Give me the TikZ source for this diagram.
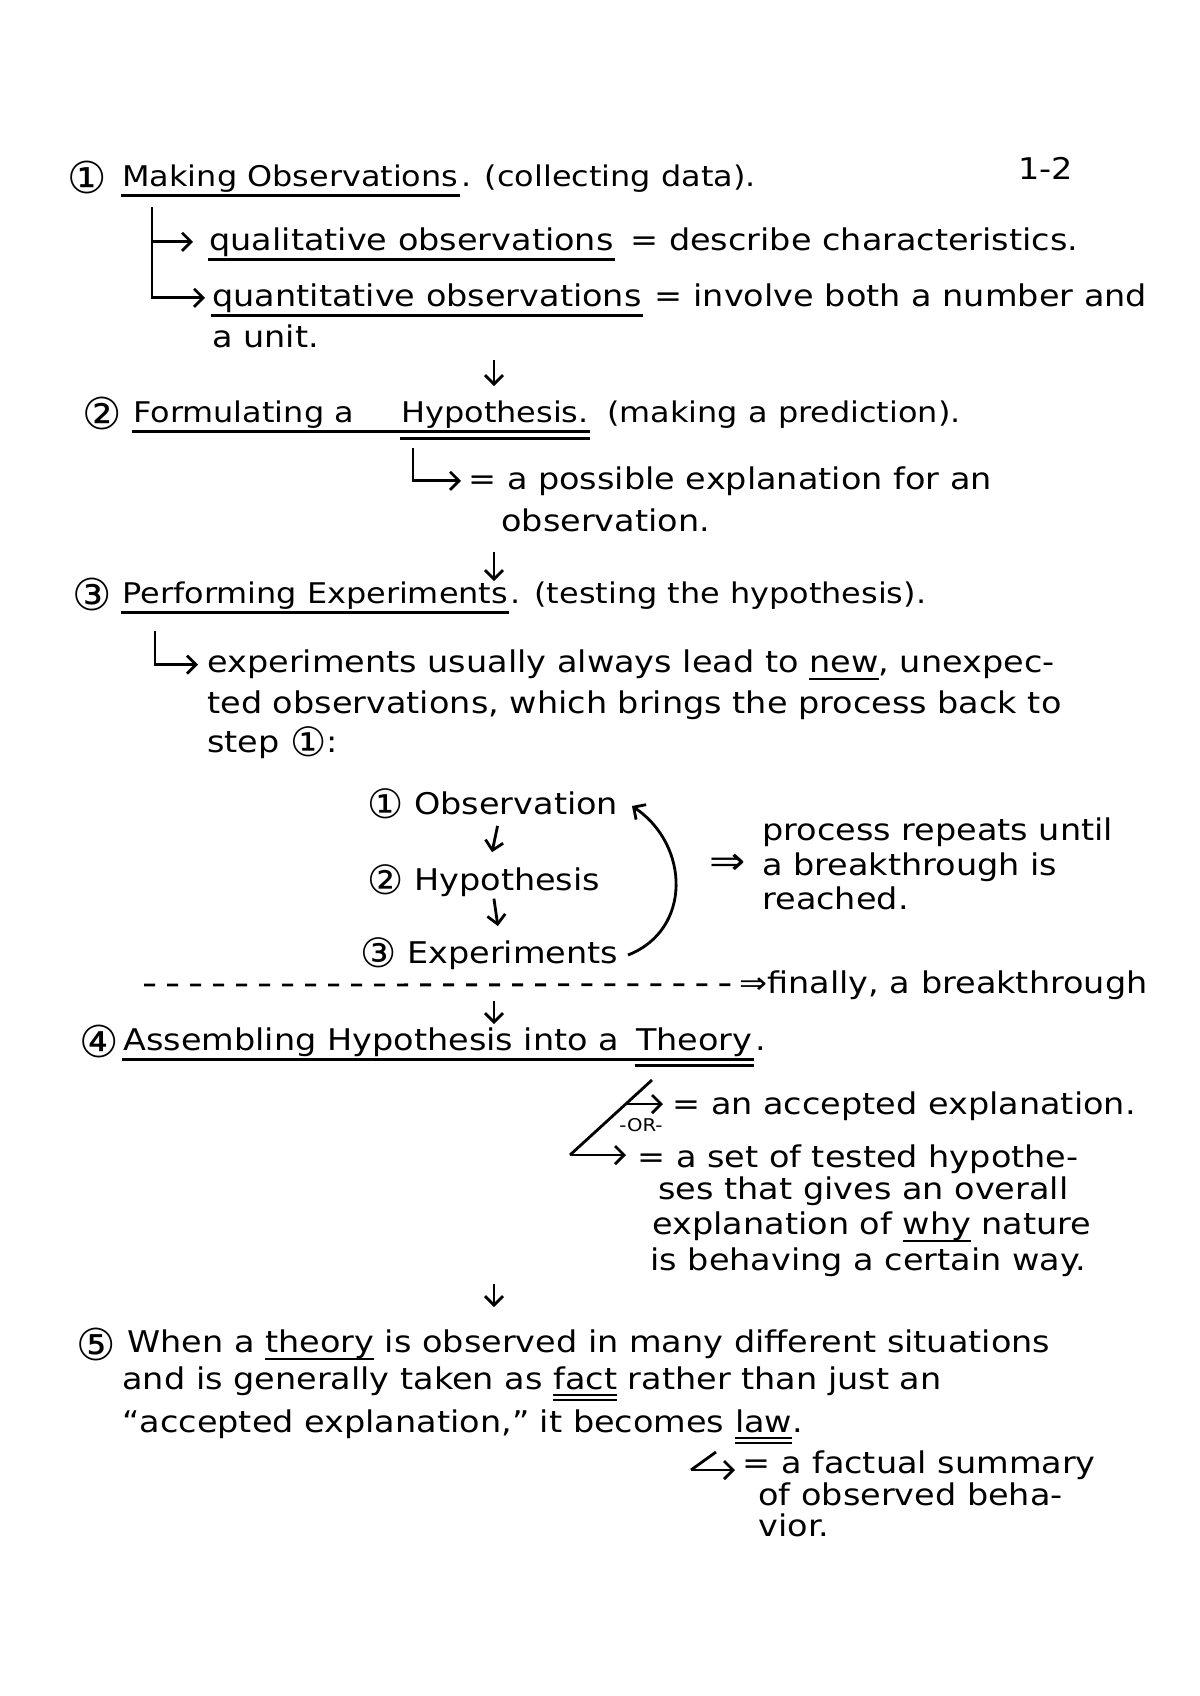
\documentclass[tikz,border=0pt]{standalone}
\usepackage{fontspec}
\setmainfont{DejaVu Sans}[FakeStretch=1.12]
\newfontfamily\circfont{DejaVu Sans}
\usetikzlibrary{arrows.meta, positioning, calc}
\newcommand{\hul}[1]{\leavevmode\vtop{\hbox{\raisebox{0pt}[\height][0pt]{#1}}\kern1.6pt\hrule height 0.7pt}}
\newcommand{\hdul}[1]{\leavevmode\vtop{\hbox{\raisebox{0pt}[\height][0pt]{#1}}\kern1.3pt\hrule height 0.7pt\kern0.8pt\hrule height 0.7pt}}
\newcommand{\cnum}[1]{\raisebox{-1.2pt}{\circfont\fontsize{11.5}{12}\selectfont #1}}
\tikzset{
  every picture/.style={line width=0.8pt},
  txt/.style={anchor=base west, inner sep=0pt, font=\fontsize{8.5}{10}\selectfont},
  hd/.style={txt, font=\fontsize{8.1}{10}\selectfont},
  num/.style={txt, font=\circfont\fontsize{12.5}{14}\selectfont},
  tinytxt/.style={txt, font=\fontsize{5}{6}\selectfont},
  arr/.style={-{Straight Barb[length=0.9mm, width=1.8mm]}},
  uline/.style={line width=0.8pt},
}

\begin{document}
\begin{tikzpicture}[x=0.01cm, y=-0.01cm,
  dashline/.style={dash pattern=on 1.1mm off 1.2mm}]
  \fill[white] (0,0) rectangle (1200,1696);
  \useasboundingbox (0,0) rectangle (1200,1696);
  % page number
  \node[txt] (pg) at (1017,179) {1-2};
  % step 1
  \node[num] (c1) at (66,193) {①};
  \node[hd] (s1a) at (121,186) {Making Observations};
  \node[hd, base right=0pt of s1a] (s1b) {. (collecting data).};
  \draw[uline] ([yshift=-2.6pt]s1a.base west) -- ([yshift=-2.6pt]s1a.base east);
  \node[txt] (q1) at (208,250) {qualitative observations};
  \node[txt, base right=0.4em of q1] (q1b) {= describe characteristics.};
  \node[txt] (q2) at (211,306) {quantitative observations};
  \node[txt, base right=0.3em of q2] (q2b) {= involve both a number and};
  \node[txt] (q3) at (211,347) {a unit.};
  \draw[uline] ([yshift=-2.6pt]q1.base west) -- ([yshift=-2.6pt]q1.base east);
  \draw[uline] ([yshift=-2.6pt]q2.base west) -- ([yshift=-2.6pt]q2.base east);
  \coordinate (b1) at (152,207);
  \draw[arr, shorten >=1.5mm] (b1) |- (q1.west);
  \draw[arr, shorten >=0.6mm] (b1) |- (q2.west);
  % step 2
  \node[num] (c2) at (81,429) {②};
  \node[hd] (s2a) at (132,422) {Formulating a};
  \node[hd] (s2b) at (400,422) {Hypothesis.};
  \node[hd, base right=0.45em of s2b] (s2c) {(making a prediction).};
  \draw[uline] ([yshift=-2.6pt]s2a.base west) -- ([yshift=-2.6pt]s2b.base east);
  \draw[uline] ([yshift=-4.6pt]s2b.base west) -- ([yshift=-4.6pt]s2b.base east);
  \node[txt] (p2) at (467,489) {= a possible explanation for an};
  \node[txt] (p2b) at (500,531) {observation.};
  \coordinate (b2) at (413,448);
  \draw[arr, shorten >=0.6mm] (b2) |- (p2.west);
  % step 3
  \node[num] (c3) at (71,610) {③};
  \node[hd] (s3a) at (121,603) {Performing Experiments};
  \node[hd, base right=0pt of s3a] (s3b) {. (testing the hypothesis).};
  \draw[uline] ([yshift=-2.6pt]s3a.base west) -- ([yshift=-2.6pt]s3a.base east);
  \node[txt] (e1) at (206,672) {experiments usually always lead to \hul{new}, unexpec-};
  \node[txt] (e2) at (206,713) {ted observations, which brings the process back to};
  \node[txt] (e3) at (206,752) {step \cnum{①}:};
  \coordinate (b3) at (155,631);
  \draw[arr, shorten >=0.8mm] (b3) |- (e1.west);
  % the loop
  \node[txt] (obs) at (366,814) {\cnum{①} Observation};
  \node[txt] (hyp) at (366,890) {\cnum{②} Hypothesis};
  \node[txt] (exp) at (359,963) {\cnum{③} Experiments};
  \draw[arr, shorten <=0.6mm, shorten >=1.1mm] ([xshift=0.6mm]obs.south) -- ([xshift=0.6mm]hyp.north);
  \draw[arr, shorten <=0.1mm, shorten >=1.0mm] ([xshift=1.0mm]hyp.south) -- ([xshift=1.0mm]exp.north);
  \coordinate (lpA) at (628,955);
  \coordinate (lpB) at (632,806);
  \draw[arr] (lpA) .. controls (692,930) and (690,845) .. (lpB);
  \node[txt, font=\fontsize{11}{12}\selectfont] (imp) at (708,874) {⇒};
  \node[txt] (r1) at (761,840) {process repeats until};
  \node[txt] (r2) at (761,875) {a breakthrough is};
  \node[txt] (r3) at (761,909) {reached.};
  % breakthrough
  \coordinate (dA) at (144,985);
  \node[txt] (fin) at (738,993) {⇒finally, a breakthrough};
  \draw[dashline] (dA) -- (fin.west);
  % step 4
  \node[num] (c4) at (78,1057) {④};
  \node[txt] (s4a) at (122,1050) {Assembling Hypothesis into a};
  \node[txt, base right=0.4em of s4a] (s4b) {Theory};
  \node[txt, base right=0pt of s4b] (s4c) {.};
  \draw[uline] ([yshift=-2.6pt]s4a.base west) -- ([yshift=-2.6pt]s4b.base east);
  \draw[uline] ([yshift=-4.4pt]s4b.base west) -- ([yshift=-4.4pt]s4b.base east);
  \node[txt] (th1) at (671,1114) {= an accepted explanation.};
  \node[tinytxt] (or) at (618,1131) {-OR-};
  \node[txt] (th2) at (636,1167) {= a set of tested hypothe-};
  \node[txt] (th3) at (657,1199) {ses that gives an overall};
  \node[txt] (th4) at (651,1234) {explanation of \hul{why} nature};
  \node[txt] (th5) at (649,1270) {is behaving a certain way.};
  \coordinate (t1) at (652,1080);
  \coordinate (t2) at (570,1155);
  \coordinate (tm) at ($(t1)!0.32!(t2)$);
  \draw (t1) -- (t2);
  \draw[arr, shorten >=0.8mm] (tm) -- (tm -| th1.west);
  \draw[arr, shorten >=1.0mm] (t2) -- (t2 -| th2.west);
  % step 5
  \node[num] (c5) at (75,1360) {⑤};
  \node[txt] (w1) at (126,1352) {When a \hul{theory} is observed in many different situations};
  \node[txt] (w2) at (121,1389) {and is generally taken as \hdul{fact} rather than just an};
  \node[txt] (w3) at (121,1432) {``accepted explanation,'' it becomes \hdul{law}.};
  \node[txt] (f1) at (741,1473) {= a factual summary};
  \node[txt] (f2) at (757,1505) {of observed beha-};
  \node[txt] (f3) at (757,1536) {vior.};
  \coordinate (l1) at (716,1452);
  \coordinate (l2) at (691,1470);
  \draw (l1) -- (l2);
  \draw[arr, shorten >=0.6mm] (l2) -- (l2 -| f1.west);
  % arrows between the steps
  \coordinate (d1) at (494,360);  \coordinate (d1-end) at (494,386);
  \coordinate (d2) at (494,552);  \coordinate (d2-end) at (494,581);
  \coordinate (d3) at (494,1001); \coordinate (d3-end) at (494,1024);
  \coordinate (d4) at (494,1284); \coordinate (d4-end) at (494,1307);
  \foreach \d in {d1,d2,d3,d4} \draw[arr] (\d) -- (\d-end);
\end{tikzpicture}
\end{document}
